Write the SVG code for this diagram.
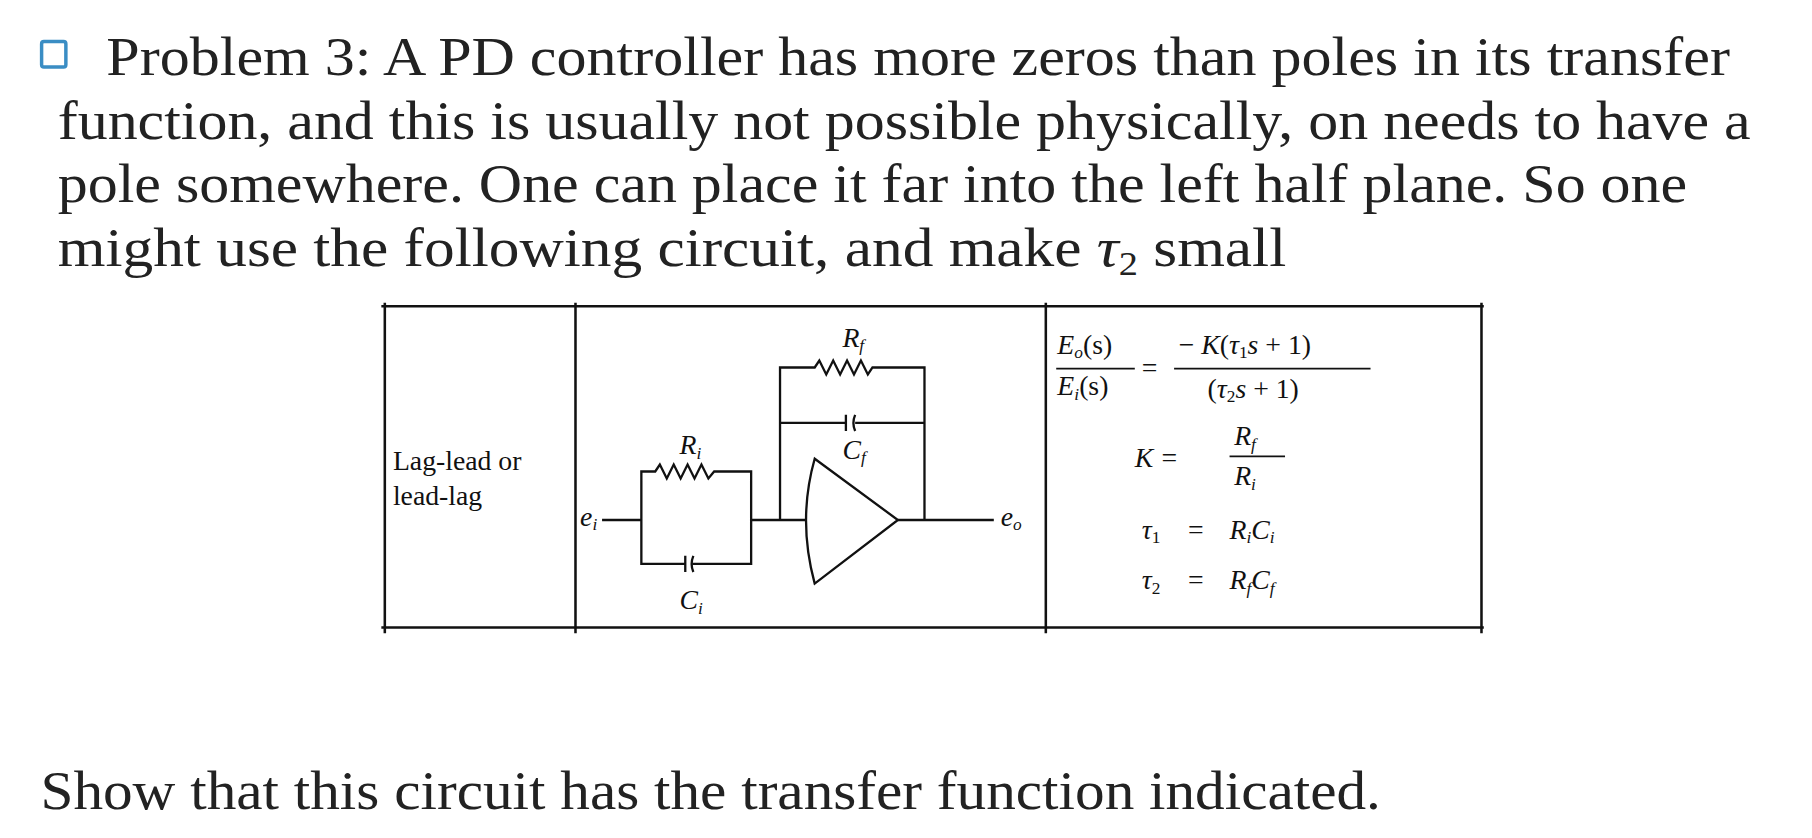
<svg xmlns="http://www.w3.org/2000/svg" width="1812" height="838" viewBox="0 0 1812 838">
<style>
.t{font-family:"Liberation Serif",serif;font-size:48px;fill:#222}
.m{font-family:"Liberation Serif",serif;font-size:24px;fill:#111}
.mi{font-family:"Liberation Serif",serif;font-size:24px;font-style:italic;fill:#111}
.sub{font-size:15px}
.w{stroke:#111;stroke-width:2;fill:none}
.g{stroke:#111;stroke-width:2.2;fill:none}
</style>
<rect width="1812" height="838" fill="#fff"/>
<g transform="scale(1.1556)">
<g id="text">
<rect x="36" y="36" width="21" height="22" rx="2" fill="#fff" stroke="#3a8dc4" stroke-width="3"/>
<text class="t" x="92" y="65" textLength="1405" lengthAdjust="spacingAndGlyphs">Problem 3: A PD controller has more zeros than poles in its transfer</text>
<text class="t" x="50" y="120" textLength="1465" lengthAdjust="spacingAndGlyphs">function, and this is usually not possible physically, on needs to have a</text>
<text class="t" x="50" y="175" textLength="1410" lengthAdjust="spacingAndGlyphs">pole somewhere. One can place it far into the left half plane. So one</text>
<text class="t" x="50" y="230" textLength="1063" lengthAdjust="spacingAndGlyphs">might use the following  circuit, and make <tspan font-style="italic">τ</tspan><tspan font-size="30" dy="8">2</tspan><tspan dy="-8"> small</tspan></text>
<text class="t" x="35" y="700" textLength="1160" lengthAdjust="spacingAndGlyphs">Show that this circuit has the transfer function indicated.</text>
</g>
<g id="table" class="g">
<line x1="330" y1="265" x2="1284" y2="265"/>
<line x1="330" y1="543" x2="1284" y2="543"/>
<line x1="333" y1="262" x2="333" y2="548"/>
<line x1="498" y1="262" x2="498" y2="548"/>
<line x1="905" y1="262" x2="905" y2="548"/>
<line x1="1282" y1="262" x2="1282" y2="548"/>
</g>
<g id="label">
<text class="m" x="340" y="407">Lag-lead or</text>
<text class="m" x="340" y="437">lead-lag</text>
</g>
<g id="circuit">
<g class="w">
<path d="M521 450 H555 V408 H567 l4 -6 l6 12 l6 -12 l6 12 l6 -12 l6 12 l6 -12 l6 12 l5 -6 H650 V488 H599 M593 488 H555 V408"/>
<path d="M593 481 V495 M600 481 Q597 488 600 495"/>
<path d="M650 450 H698 M675 450 V318 H705 l4 -6 l6 12 l6 -12 l6 12 l6 -12 l6 12 l6 -12 l6 12 l4 -6 H800 V450 M675 366 H732 M740 366 H800"/>
<path d="M732 359 V373 M740 359 Q737 366 740 373"/>
<path d="M705 397 Q690 450 705 505 L777 450 Z"/>
<path d="M777 450 H860"/>
</g>
<text class="mi" x="502" y="455">e<tspan class="sub" dy="4">i</tspan></text>
<text class="mi" x="866" y="455">e<tspan class="sub" dy="4">o</tspan></text>
<text class="mi" x="588" y="393">R<tspan class="sub" dy="4">i</tspan></text>
<text class="mi" x="588" y="527">C<tspan class="sub" dy="4">i</tspan></text>
<text class="mi" x="729" y="300">R<tspan class="sub" dy="4">f</tspan></text>
<text class="mi" x="729" y="397">C<tspan class="sub" dy="4">f</tspan></text>
</g>
<g id="formula">
<text class="mi" x="915" y="306">E<tspan class="sub" dy="4">o</tspan><tspan dy="-4" font-style="normal">(s)</tspan></text>
<line x1="914" y1="319" x2="982" y2="319" stroke="#111" stroke-width="1.5"/>
<text class="mi" x="915" y="342">E<tspan class="sub" dy="4">i</tspan><tspan dy="-4" font-style="normal">(s)</tspan></text>
<text class="m" x="988" y="326">=</text>
<text class="m" x="1020" y="306">− <tspan font-style="italic">K</tspan>(<tspan font-style="italic">τ</tspan><tspan class="sub" dy="4">1</tspan><tspan dy="-4" font-style="italic">s</tspan> + 1)</text>
<line x1="1016" y1="319" x2="1186" y2="319" stroke="#111" stroke-width="1.5"/>
<text class="m" x="1045" y="344">(<tspan font-style="italic">τ</tspan><tspan class="sub" dy="4">2</tspan><tspan dy="-4" font-style="italic">s</tspan> + 1)</text>
<text class="mi" x="982" y="404">K</text>
<text class="m" x="1005" y="404">=</text>
<text class="mi" x="1068" y="385">R<tspan class="sub" dy="4">f</tspan></text>
<line x1="1064" y1="395" x2="1112" y2="395" stroke="#111" stroke-width="1.5"/>
<text class="mi" x="1068" y="420">R<tspan class="sub" dy="4">i</tspan></text>
<text class="mi" x="988" y="466">τ<tspan class="sub" dy="4" font-style="normal">1</tspan></text>
<text class="m" x="1028" y="466">=</text>
<text class="mi" x="1064" y="466">R<tspan class="sub" dy="4">i</tspan><tspan dy="-4">C</tspan><tspan class="sub" dy="4">i</tspan></text>
<text class="mi" x="988" y="510">τ<tspan class="sub" dy="4" font-style="normal">2</tspan></text>
<text class="m" x="1028" y="510">=</text>
<text class="mi" x="1064" y="510">R<tspan class="sub" dy="4">f</tspan><tspan dy="-4">C</tspan><tspan class="sub" dy="4">f</tspan></text>
</g>
</g>
</svg>
